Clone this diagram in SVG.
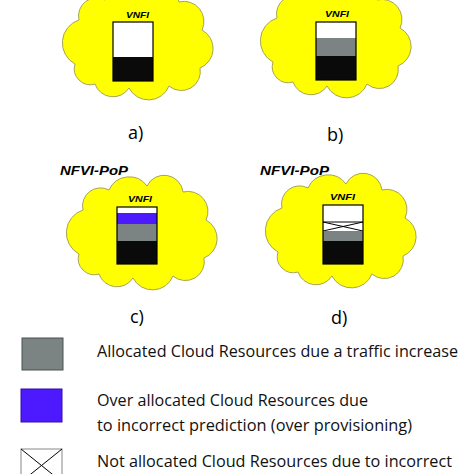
<svg xmlns="http://www.w3.org/2000/svg" xmlns:xlink="http://www.w3.org/1999/xlink" width="474" height="474" viewBox="0 0 474 474">
<style>
.cloud{fill:#ffff00;stroke:#a6a45a;stroke-width:1}
.box{stroke:#000;stroke-width:1.2}
.wh{fill:#ffffff}
.gr{fill:#7b8383}
.bk{fill:#0a0a0a}
.bl{fill:#4d1aff}
.vnfi{font-family:"Liberation Sans",Arial,sans-serif;font-weight:bold;font-style:italic;font-size:8.5px;fill:#000}
.pop{font-family:"Liberation Sans",Arial,sans-serif;font-weight:bold;font-style:italic;font-size:13.5px;fill:#000}
.lab{font-family:"Open Sans","Liberation Sans",sans-serif;font-size:18px;fill:#000}
.leg{font-family:"Open Sans","Liberation Sans",sans-serif;font-size:16px;fill:#111}
.xl{stroke:#000;stroke-width:1;fill:none}
</style>
<defs>
<path id="cloud" class="cloud" d="M-64,20 A24,24 0 0 1 -60,-24 A18,18 0 0 1 -34,-44 A22,22 0 0 1 4,-48 A19,19 0 0 1 40,-42 A20,20 0 0 1 63,-14 A21,21 0 0 1 61,24 A19,19 0 0 1 30,42 A22,22 0 0 1 -10,44 A19,19 0 0 1 -44,40 A16,16 0 0 1 -64,20 Z"/>
</defs>

<g id="node-a">
<use xlink:href="#cloud" transform="translate(139,44)"/>
<text class="vnfi" x="126" y="18" textLength="23" lengthAdjust="spacingAndGlyphs">VNFI</text>
<rect class="wh" x="113" y="22" width="40" height="35"/>
<rect class="bk" x="113" y="57" width="40" height="24"/>
<rect class="box" x="113" y="22" width="40" height="59" fill="none"/>
<text class="lab" x="128" y="139">a)</text>
</g>

<g id="node-b">
<use xlink:href="#cloud" transform="translate(337,42)"/>
<text class="vnfi" x="325" y="17" textLength="24" lengthAdjust="spacingAndGlyphs">VNFI</text>
<rect class="wh" x="316" y="22" width="40" height="16"/>
<rect class="gr" x="316" y="38" width="40" height="18"/>
<rect class="bk" x="316" y="56" width="40" height="24"/>
<rect class="box" x="316" y="22" width="40" height="58" fill="none"/>
<text class="lab" x="327" y="141">b)</text>
</g>

<g id="node-c">
<text class="pop" x="60" y="175" textLength="68" lengthAdjust="spacingAndGlyphs">NFVI-PoP</text>
<use xlink:href="#cloud" transform="translate(143,234)"/>
<text class="vnfi" x="128" y="202" textLength="24" lengthAdjust="spacingAndGlyphs">VNFI</text>
<rect class="wh" x="117" y="207" width="40" height="6"/>
<rect class="bl" x="117" y="213" width="40" height="11"/>
<rect class="gr" x="117" y="224" width="40" height="17"/>
<rect class="bk" x="117" y="241" width="40" height="23"/>
<rect class="box" x="117" y="207" width="40" height="57" fill="none"/>
<text class="lab" x="130" y="323">c)</text>
</g>

<g id="node-d">
<text class="pop" x="260" y="175" textLength="69" lengthAdjust="spacingAndGlyphs">NFVI-PoP</text>
<use xlink:href="#cloud" transform="translate(342,232)"/>
<text class="vnfi" x="330" y="200" textLength="25" lengthAdjust="spacingAndGlyphs">VNFI</text>
<rect class="wh" x="323" y="205" width="40" height="17"/>
<rect class="wh" x="323" y="222" width="40" height="9"/>
<path class="xl" d="M323,222 L363,231 M363,222 L323,231"/>
<rect class="gr" x="323" y="231" width="40" height="10"/>
<rect class="bk" x="323" y="241" width="40" height="23"/>
<line x1="323" y1="222" x2="363" y2="222" stroke="#000" stroke-width="1"/>
<rect class="box" x="323" y="205" width="40" height="59" fill="none"/>
<text class="lab" x="331" y="324">d)</text>
</g>

<g id="legend">
<rect x="22" y="338" width="41" height="32" fill="#7b8383" stroke="#4a5050" stroke-width="1"/>
<text class="leg" x="97" y="357" textLength="361" lengthAdjust="spacingAndGlyphs">Allocated Cloud Resources due a traffic increase</text>
<rect x="21" y="389" width="41" height="33" fill="#4d1aff" stroke="#3010a0" stroke-width="1"/>
<text class="leg" x="97" y="406" textLength="271" lengthAdjust="spacingAndGlyphs">Over allocated Cloud Resources due</text>
<text class="leg" x="97" y="431" textLength="315" lengthAdjust="spacingAndGlyphs">to incorrect prediction (over provisioning)</text>
<rect x="21" y="449" width="41" height="33" fill="#fff" stroke="#888" stroke-width="1"/>
<path class="xl" d="M21,449 L62,482 M62,449 L21,482"/>
<text class="leg" x="97" y="467" textLength="355" lengthAdjust="spacingAndGlyphs">Not allocated Cloud Resources due to incorrect</text>
</g>
<g id="connectors"/>
</svg>
